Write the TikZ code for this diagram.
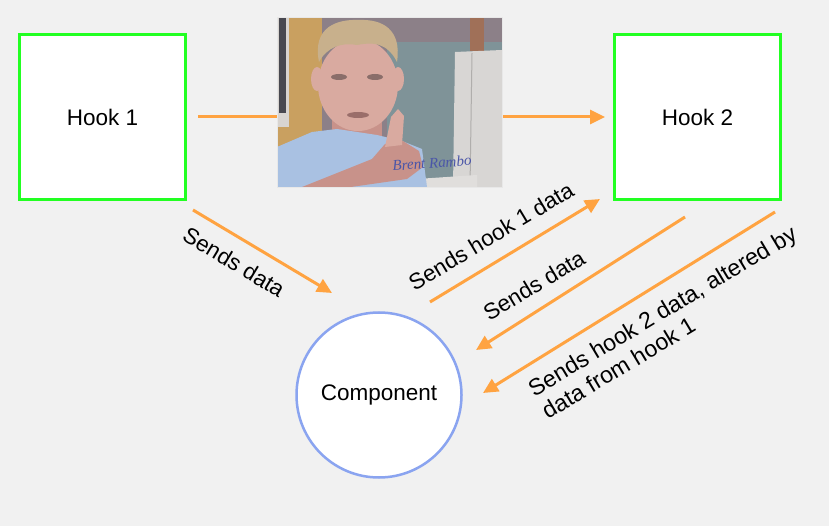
\documentclass[tikz,border=0pt]{standalone}
\usepackage{fontspec}
\setmainfont{Liberation Sans}
\newfontfamily\sigfont{Liberation Serif}
\usetikzlibrary{arrows.meta}
\definecolor{bg}{HTML}{F1F1F1}
\definecolor{hookgreen}{HTML}{22FF22}
\definecolor{compblue}{HTML}{8AA4F0}
\definecolor{arrorange}{HTML}{FFA341}
\definecolor{wood}{HTML}{C9A060}
\definecolor{mauve}{HTML}{8C8088}
\definecolor{wall}{HTML}{7F9398}
\definecolor{hair}{HTML}{C8B08C}
\definecolor{skin}{HTML}{D9AAA0}
\definecolor{skindark}{HTML}{C8928A}
\definecolor{shirt}{HTML}{A9C1E2}
\definecolor{monitor}{HTML}{D8D6D4}
\definecolor{sig}{HTML}{4A55A8}
\definecolor{frame}{HTML}{A07058}
\definecolor{poster}{HTML}{D8D4D0}
\definecolor{posterdark}{HTML}{484850}
\definecolor{monedge}{HTML}{B0AEAC}
\definecolor{keyb}{HTML}{E0DEDC}
\definecolor{eyes}{HTML}{8A6E6A}
\definecolor{mouth}{HTML}{9A6E6A}
\definecolor{photoedge}{HTML}{E8E8E8}
\tikzset{
  hookbox/.style={draw=hookgreen, line width=3pt, fill=white, minimum width=166pt, minimum height=165pt, inner sep=0pt, font=\fontsize{22.5}{27}\selectfont},
  compcircle/.style={circle, draw=compblue, line width=2.5pt, fill=white, minimum size=165pt, inner sep=0pt, font=\fontsize{22.5}{27}\selectfont},
  flow/.style={draw=arrorange, line width=3pt, -{Triangle[length=15pt,width=14pt]}},
  lbl/.style={font=\fontsize{22.5}{27}\selectfont, inner sep=0pt},
}
\begin{document}
\begin{tikzpicture}[x=1pt,y=-1pt]
\fill[bg] (0,0) rectangle (829,526);
\useasboundingbox (0,0) rectangle (829,526);

% nodes
\node[hookbox] (hook1) at (102.5,117) {Hook 1};
\node[hookbox] (hook2) at (697.5,117) {Hook 2};
\node[compcircle] (comp) at (379,395) {Component};

% top connector (behind photo)
\draw[flow, shorten <=11pt, shorten >=8pt] (hook1.east) -- (hook2.west);

% photo
\begin{scope}[shift={(277,17)}]
  \clip (0,0) rectangle (225,170);
  \fill[mauve] (0,0) rectangle (225,170);
  \fill[wall] (110,25) rectangle (225,170);
  \fill[frame] (193,0) rectangle (207,34);
  \fill[wood] (0,0) rectangle (45,170);
  \fill[poster] (0,0) rectangle (12,110);
  \fill[posterdark] (2,0) rectangle (9,96);
  \fill[monitor] (178,35) -- (225,33) -- (225,170) -- (176,170) -- cycle;
  \draw[monedge, line width=1pt] (195,36) -- (193,170);
  \fill[keyb] (140,162) -- (200,158) -- (200,170) -- (140,170) -- cycle;
  \fill[skindark] (55,95) rectangle (105,125);
  \fill[skin] (40,62) ellipse (6 and 12);
  \fill[skin] (121,62) ellipse (6 and 12);
  \fill[skin] (81,68) ellipse (40 and 46);
  \fill[hair] (42,45) .. controls (35,10) and (60,2) .. (82,3) .. controls (105,2) and (125,12) .. (120,45) .. controls (110,25) and (95,25) .. (80,28) .. controls (65,25) and (50,30) .. (42,45) -- cycle;
  \fill[eyes] (62,60) ellipse (8 and 3);
  \fill[eyes] (98,60) ellipse (8 and 3);
  \fill[mouth] (81,98) ellipse (11 and 3);
  \fill[shirt] (0,130) -- (35,115) -- (60,112) -- (100,118) -- (125,124) -- (145,132) -- (150,170) -- (0,170) -- cycle;
  \fill[skindark] (20,172) -- (95,142) -- (108,127) -- (126,124) -- (142,134) -- (146,150) -- (130,162) -- (60,172) -- cycle;
  \fill[skin] (108,130) -- (114,100) -- (121,92) -- (127,99) -- (125,128) -- cycle;
  \node[text=sig, font=\sigfont\itshape\fontsize{15}{15}\selectfont, rotate=4, inner sep=0pt] (sign) at (155,146) {Brent Rambo};
\end{scope}
\draw[photoedge, line width=0.5pt] (277,17) rectangle (502,187);

% diagonal connectors
\coordinate (a1s) at (193,210);
\coordinate (a1e) at (332,293);
\coordinate (a2s) at (430,302);
\coordinate (a2e) at (600,199);
\coordinate (a3s) at (685,217);
\coordinate (a3e) at (476,350);
\coordinate (a4s) at (775,212);
\coordinate (a4e) at (483,393);
\draw[flow] (a1s) -- (a1e);
\draw[flow] (a2s) -- (a2e);
\draw[flow] (a3s) -- (a3e);
\draw[flow] (a4s) -- (a4e);

% labels
\node[lbl, rotate=-31] (l1) at (234,262) {Sends data};
\node[lbl, rotate=31] (l2) at (491,236) {Sends hook 1 data};
\node[lbl, rotate=31] (l3) at (534,285) {Sends data};
\node[lbl, rotate=31, align=left, font=\fontsize{23.2}{26.4}\selectfont] (l4) at (669,322) {Sends hook 2 data, altered by\\data from hook 1};
\end{tikzpicture}
\end{document}
